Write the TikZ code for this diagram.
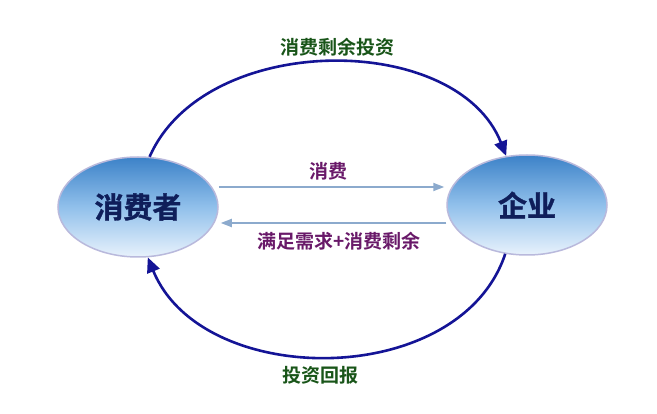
\documentclass[tikz,border=0pt]{standalone}
\usepackage{fontspec}
\newfontfamily\cjk{Noto Sans CJK SC}[BoldFont={Noto Sans CJK SC Bold}]
\newfontfamily\cjkheavy{Noto Sans CJK SC}[BoldFont={Noto Sans CJK SC Bold},BoldFeatures={FakeBold=1.2}]
\usetikzlibrary{shapes.geometric,arrows.meta}
\definecolor{navy}{RGB}{20,20,150}
\definecolor{txtnavy}{RGB}{15,30,90}
\definecolor{lblgreen}{RGB}{25,85,25}
\definecolor{lblpurple}{RGB}{105,25,105}
\definecolor{midarrow}{RGB}{140,170,205}
\definecolor{elltop}{RGB}{60,130,200}
\definecolor{ellmid}{RGB}{145,192,235}
\definecolor{ellbot}{RGB}{232,242,252}
\definecolor{ellrim}{RGB}{185,185,220}
\tikzset{
  party/.style={ellipse, minimum width=160pt, minimum height=100pt, inner sep=0pt,
    top color=elltop, bottom color=ellbot, middle color=ellmid,
    draw=ellrim, line width=1.5pt, text=txtnavy, font=\cjkheavy\bfseries\fontsize{29}{29}\selectfont},
  flow/.style={draw=navy, line width=2.6pt, -{Triangle[length=15pt,width=13pt]}},
  mid/.style={draw=midarrow, line width=1.8pt, -{Triangle[length=11pt,width=8pt]}},
  glabel/.style={text=lblgreen, font=\cjk\bfseries\fontsize{19}{19}\selectfont},
  plabel/.style={text=lblpurple, font=\cjk\bfseries\fontsize{19}{19}\selectfont}
}
\begin{document}
\begin{tikzpicture}[x=1pt,y=-1pt]
\useasboundingbox (0,0) rectangle (657,414);
\fill[white] (0,0) rectangle (657,414);
\node[party] (L) at (138,207) {消费者};
\node[party] (R) at (527,205) {企业};
\coordinate (c1) at (205,31);
\coordinate (c2) at (457,31);
\coordinate (c3) at (460,390);
\coordinate (c4) at (202,390);
\draw[flow] (L.77) .. controls (c1) and (c2) .. (R.113);
\draw[flow] (R.246) .. controls (c3) and (c4) .. (L.281);
\coordinate (m1) at ([yshift=20pt]L.east);
\coordinate (m2) at ([xshift=-2pt,yshift=18pt]R.west);
\coordinate (m3) at ([yshift=-18pt]R.west);
\coordinate (m4) at ([xshift=2pt,yshift=-16pt]L.east);
\draw[mid] (m1) -- (m2);
\draw[mid] (m3) -- (m4);
\node[glabel] (t1) at (337,47) {消费剩余投资};
\node[glabel] (t2) at (320,375) {投资回报};
\node[plabel] (t3) at (328,171) {消费};
\node[plabel] (t4) at (339,241) {满足需求+消费剩余};
\end{tikzpicture}
\end{document}
